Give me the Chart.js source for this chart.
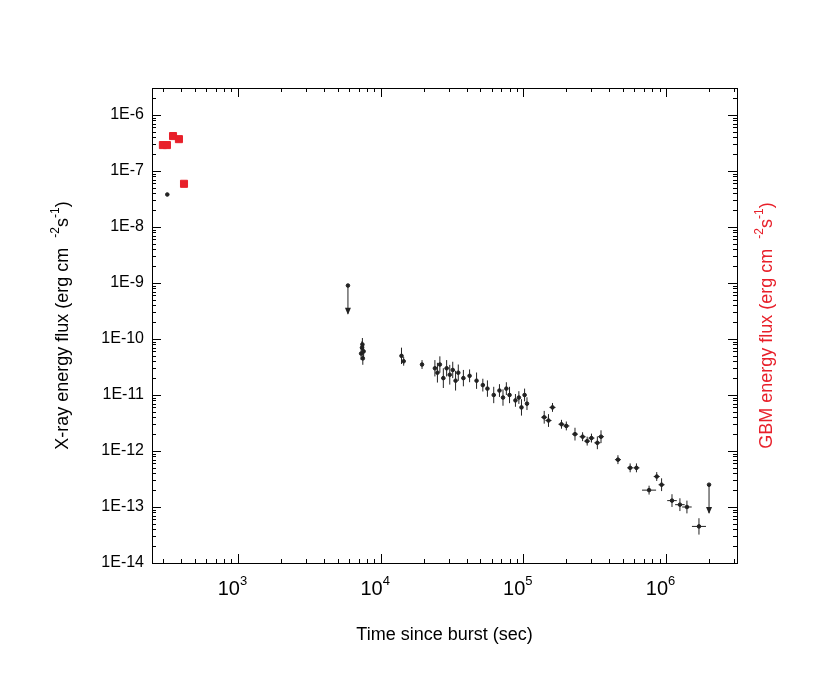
<!DOCTYPE html>
<html><head><meta charset="utf-8">
<script src="https://cdn.jsdelivr.net/npm/chart.js@4/dist/chart.umd.min.js"></script>
<style>body{margin:0;background:#fff}#w{width:830px;height:696px}</style></head>
<body><div id="w"><canvas id="c"></canvas></div>
<script>
// GBM (red) points
const gbmTime = [298, 318, 351, 386, 419];
const gbmFlux = [2.9e-7, 2.9e-7, 4.2e-7, 3.7e-7, 5.9e-8];
// X-ray points: time, flux, error factor (multiplicative), time error factor
const xrtTime = [320, 7300, 7400, 7500, 7600, 7450, 14000, 14500, 19500, 24000, 25000, 26000, 27500, 29000, 30500, 32000, 33500, 35000, 38000, 42000, 47000, 52000, 56000, 62000, 68000, 72000, 76000, 80000, 88000, 93000, 97000, 102000, 106000, 140000, 150000, 160000, 185000, 200000, 230000, 260000, 280000, 300000, 330000, 350000, 460000, 560000, 620000, 760000, 860000, 930000, 1100000, 1250000, 1400000, 1700000];
const xrtFlux = [3.8e-8, 5.5e-11, 7e-11, 4.5e-11, 6e-11, 8e-11, 5e-11, 4e-11, 3.5e-11, 3e-11, 2.5e-11, 3.5e-11, 2e-11, 3e-11, 2.3e-11, 2.8e-11, 1.8e-11, 2.5e-11, 2e-11, 2.2e-11, 1.8e-11, 1.5e-11, 1.3e-11, 1e-11, 1.2e-11, 9e-12, 1.3e-11, 1e-11, 8e-12, 9e-12, 6e-12, 1e-11, 7e-12, 4e-12, 3.5e-12, 6e-12, 3e-12, 2.8e-12, 2e-12, 1.8e-12, 1.5e-12, 1.7e-12, 1.4e-12, 1.8e-12, 7e-13, 5e-13, 5e-13, 2e-13, 3.5e-13, 2.5e-13, 1.3e-13, 1.1e-13, 1e-13, 4.5e-14];
const xrtErr = [1.0, 1.3, 1.3, 1.3, 1.3, 1.3, 1.4, 1.2, 1.2, 1.4, 1.5, 1.4, 1.5, 1.4, 1.5, 1.4, 1.5, 1.4, 1.4, 1.3, 1.4, 1.3, 1.4, 1.4, 1.3, 1.4, 1.3, 1.4, 1.3, 1.3, 1.4, 1.3, 1.3, 1.3, 1.3, 1.2, 1.2, 1.2, 1.3, 1.2, 1.2, 1.2, 1.3, 1.3, 1.2, 1.2, 1.2, 1.2, 1.2, 1.3, 1.3, 1.3, 1.3, 1.4];
const xrtTErr = [1.0, 1.0, 1.0, 1.0, 1.0, 1.0, 1.0, 1.0, 1.0, 1.0, 1.0, 1.0, 1.0, 1.0, 1.0, 1.0, 1.0, 1.0, 1.0, 1.0, 1.0, 1.0, 1.0, 1.0, 1.0, 1.0, 1.0, 1.0, 1.0, 1.0, 1.0, 1.0, 1.0, 1.05, 1.05, 1.05, 1.05, 1.05, 1.05, 1.05, 1.05, 1.05, 1.05, 1.05, 1.05, 1.05, 1.05, 1.12, 1.05, 1.05, 1.08, 1.08, 1.08, 1.12];
// upper limits
const ulTime = [5900, 2000000];
const ulFlux = [9e-10, 2.5e-13];
const xTickExp = [3, 4, 5, 6];
const yTickExp = [-6, -7, -8, -9, -10, -11, -12, -13, -14];

const pts = (t, f) => t.map((v, i) => ({x: v, y: f[i]}));
const red = '#e8202a';

const drawPlugin = {
  id: 'deco',
  afterDatasetsDraw(ch) {
    const c = ch.ctx, a = ch.chartArea, xs = ch.scales.x, ys = ch.scales.y;
    c.save();
    c.strokeStyle = '#222'; c.fillStyle = '#222'; c.lineWidth = 1;
    xrtTime.forEach((t, i) => {
      const px = xs.getPixelForValue(t), py = ys.getPixelForValue(xrtFlux[i]);
      c.beginPath();
      if (xrtErr[i] > 1) {
        c.moveTo(px, ys.getPixelForValue(xrtFlux[i] * xrtErr[i]));
        c.lineTo(px, ys.getPixelForValue(xrtFlux[i] / xrtErr[i]));
      }
      if (xrtTErr[i] > 1) {
        c.moveTo(xs.getPixelForValue(t / xrtTErr[i]), py);
        c.lineTo(xs.getPixelForValue(t * xrtTErr[i]), py);
      }
      c.stroke();
    });
    ulTime.forEach((t, i) => {
      const px = xs.getPixelForValue(t), py = ys.getPixelForValue(ulFlux[i]);
      const pe = ys.getPixelForValue(ulFlux[i] / 3.2);
      c.beginPath(); c.moveTo(px, py); c.lineTo(px, pe); c.stroke();
      c.beginPath(); c.moveTo(px - 3, pe - 6); c.lineTo(px + 3, pe - 6); c.lineTo(px, pe + 1); c.closePath(); c.fill();
    });
    c.strokeStyle = '#000'; c.lineWidth = 1;
    c.strokeRect(a.left + 0.5, a.top + 0.5, a.right - a.left, a.bottom - a.top);
    c.beginPath();
    for (let e = 2; e <= 6; e++) for (let m = 1; m < 10; m++) {
      const v = m * Math.pow(10, e); if (v < xs.min || v > xs.max) continue;
      const px = Math.round(xs.getPixelForValue(v)) + 0.5, L = m === 1 ? 9 : 4;
      c.moveTo(px, a.bottom); c.lineTo(px, a.bottom - L);
      c.moveTo(px, a.top); c.lineTo(px, a.top + L);
    }
    for (let e = -14; e <= -6; e++) for (let m = 1; m < 10; m++) {
      const v = m * Math.pow(10, e); if (v < ys.min || v > ys.max) continue;
      const py = Math.round(ys.getPixelForValue(v)) + 0.5, L = m === 1 ? 9 : 4;
      c.moveTo(a.left, py); c.lineTo(a.left + L, py);
      c.moveTo(a.right, py); c.lineTo(a.right - L, py);
    }
    c.stroke();
    c.fillStyle = '#000'; c.font = '16px "Liberation Sans", Arial'; c.textAlign = 'right'; c.textBaseline = 'middle';
    yTickExp.forEach(e => c.fillText('1E' + e, a.left - 8, ys.getPixelForValue(Math.pow(10, e))));
    xTickExp.forEach(e => {
      const px = xs.getPixelForValue(Math.pow(10, e));
      c.font = '20px "Liberation Sans", Arial'; c.textAlign = 'right'; c.textBaseline = 'alphabetic';
      c.fillText('10', px + 2, a.bottom + 32);
      c.font = '13px "Liberation Sans", Arial'; c.textAlign = 'left';
      c.fillText(String(e), px + 2, a.bottom + 22);
    });
    c.font = '18px "Liberation Sans", Arial'; c.textAlign = 'center';
    c.fillText('Time since burst (sec)', (a.left + a.right) / 2, 640);
    const vtitle = (x, col, parts) => {
      c.save(); c.translate(x, (a.top + a.bottom) / 2); c.rotate(-Math.PI / 2);
      c.fillStyle = col; c.textAlign = 'left'; c.textBaseline = 'alphabetic';
      let total = 0;
      parts.forEach(p => { c.font = (p[1] ? '12px' : '18px') + ' "Liberation Sans", Arial'; total += c.measureText(p[0]).width; });
      let cx = -total / 2;
      parts.forEach(p => { c.font = (p[1] ? '12px' : '18px') + ' "Liberation Sans", Arial'; c.fillText(p[0], cx, p[1] ? -9 : 0); cx += c.measureText(p[0]).width; });
      c.restore();
    };
    const parts = (t) => [[t + ' energy flux (erg cm  ', 0], ['-2', 1], ['s', 0], ['-1', 1], [')', 0]];
    vtitle(68, '#000', parts('X-ray'));
    vtitle(772, red, parts('GBM'));
    c.restore();
  }
};

new Chart(document.getElementById('c'), {
  type: 'scatter',
  data: { datasets: [
    { label: 'GBM', data: pts(gbmTime, gbmFlux), pointStyle: 'rect', pointRadius: 5, backgroundColor: red, borderColor: red },
    { label: 'XRT', data: pts(xrtTime, xrtFlux), pointRadius: 1.8, backgroundColor: '#222', borderColor: '#222' },
    { label: 'UL', data: pts(ulTime, ulFlux), pointRadius: 1.8, backgroundColor: '#222', borderColor: '#222' }
  ]},
  options: {
    responsive: true, maintainAspectRatio: false, animation: false,
    layout: { padding: { top: 88, left: 0, right: 0, bottom: 0 } },
    plugins: { legend: { display: false }, tooltip: { enabled: false } },
    scales: {
      x: { type: 'logarithmic', min: 250, max: 3.14e6, grid: { display: false }, border: { display: false },
           ticks: { display: false }, afterFit: s => { s.height = 133; } },
      y: { type: 'logarithmic', min: 1e-14, max: 3.03e-6, grid: { display: false }, border: { display: false },
           ticks: { display: false }, afterFit: s => { s.width = 152; } },
      y2: { type: 'logarithmic', position: 'right', min: 1e-14, max: 3.03e-6, grid: { display: false }, border: { display: false },
           ticks: { display: false }, afterFit: s => { s.width = 93; } }
    }
  },
  plugins: [drawPlugin]
});
</script></body></html>
